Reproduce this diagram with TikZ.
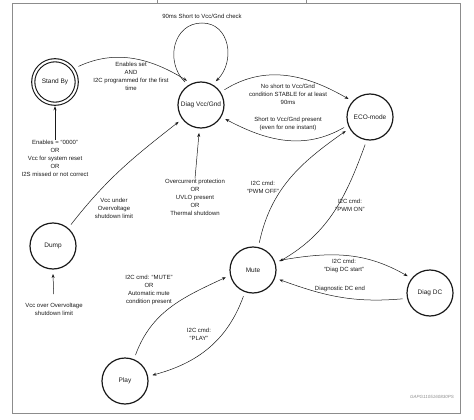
\documentclass[tikz,border=0pt]{standalone}
\usepackage{fontspec}
\setmainfont{Liberation Sans}
\usetikzlibrary{arrows.meta}
\definecolor{ink}{HTML}{1A1A1A}
\definecolor{frame}{HTML}{8C8C8C}
\tikzset{
  >={Stealth[length=4pt,width=3pt]},
  every node/.style={font=\fontsize{6}{8}\selectfont,text=ink},
  state/.style={circle,draw=ink,line width=1.2pt,minimum size=46pt,inner sep=0pt,outer sep=5pt,font=\fontsize{6.5}{8}\selectfont},
  startstate/.style={state,double,double distance=2pt,line width=1.1pt,minimum size=43.5pt,outer sep=2.5pt},
  lbl/.style={align=center,inner sep=0pt},
  arrow/.style={->,line width=0.5pt,draw=ink},
  border/.style={draw=frame,line width=0.8pt},
}

\begin{document}
\begin{tikzpicture}[x=1pt,y=-1pt]
\useasboundingbox (0,0) rectangle (474,420);
\draw[border] (12,3) rectangle (460,413);
\draw[border] (157,0) -- (157,3);
\draw[border] (306,0) -- (306,3);

% states
\node[startstate] (standby) at (55,82) {Stand By};
\node[state] (diag) at (201,105) {Diag Vcc/Gnd};
\node[state] (eco) at (370,117) {ECO-mode};
\node[state] (dump) at (53,246) {Dump};
\node[state] (mute) at (253,270) {Mute};
\node[state] (diagdc) at (430,293) {Diag DC};
\node[state] (play) at (125,381) {Play};
\coordinate (looptop) at (202,23);

% free labels
\node[lbl] (loop) at (202,16) {90ms Short to Vcc/Gnd check};
\node[lbl] (enset) at (131,76) {Enables set\\AND\\I2C programmed for the first\\time};
\node[lbl] (reset) at (55,158) {Enables = ``0000''\\OR\\Vcc for system reset\\OR\\I2S missed or not correct};
\node[lbl] (ocp) at (195,197) {Overcurrent protection\\OR\\UVLO present\\OR\\Thermal shutdown};
\node[lbl] (under) at (114,208) {Vcc under\\Overvoltage\\shutdown limit};
\node[lbl] (over) at (54,309.5) {Vcc over Overvoltage\\shutdown limit};
\node[lbl] (noshort) at (288,94) {No short to Vcc/Gnd\\condition STABLE for at least\\90ms};
\node[lbl] (short) at (288,124) {Short to Vcc/Gnd present\\(even for one instant)};
\node[lbl] (pwmoff) at (263,187) {I2C cmd:\\``PWM OFF''};
\node[lbl] (pwmon) at (350,205) {I2C cmd:\\``PWM ON''};
\node[lbl] (dcstart) at (344,266) {I2C cmd:\\``Diag DC start''};
\node[lbl] (dcend) at (340,289) {Diagnostic DC end};
\node[lbl] (mutecmd) at (149,290) {I2C cmd: ``MUTE''\\OR\\Automatic mute\\condition present};
\node[lbl] (playcmd) at (199,334.5) {I2C cmd:\\``PLAY''};
\node[lbl,font=\fontsize{4.5}{5}\selectfont\itshape,text=frame] (code) at (432,397) {GAPG1105160830PS};

% transitions
\draw[arrow,shorten <=4pt] (standby.35) to[out=25,in=148] (diag.120);
\draw[arrow] (diag.125) to[out=135,in=180,looseness=1.2] (looptop) to[out=0,in=45,looseness=1.2] (diag.58);
\draw[arrow] (reset.north) -- (standby.south);
\draw[arrow] (ocp.north) -- (diag.266);
\draw[arrow] (dump.50) to[out=52,in=218] (diag.217);
\draw[arrow,shorten <=9pt] (over.north) -- (dump.south);
\draw[arrow] (diag.33) to[out=32,in=150] (eco.140);
\draw[arrow] (eco.202) to[out=210,in=-28] (diag.-30);
\draw[arrow] (mute.77) to[out=78,in=215] (eco.210);
\draw[arrow] (eco.260) to[out=250,in=30] (mute.18);
\draw[arrow] (mute.20) to[out=10,in=150] (diagdc.143);
\draw[arrow] (diagdc.192) to[out=185,in=-20] (mute.-20);
\draw[arrow] (play.68) to[out=70,in=205] (mute.195);
\draw[arrow] (mute.250) to[out=250,in=15] (play.12);

\end{tikzpicture}
\end{document}
